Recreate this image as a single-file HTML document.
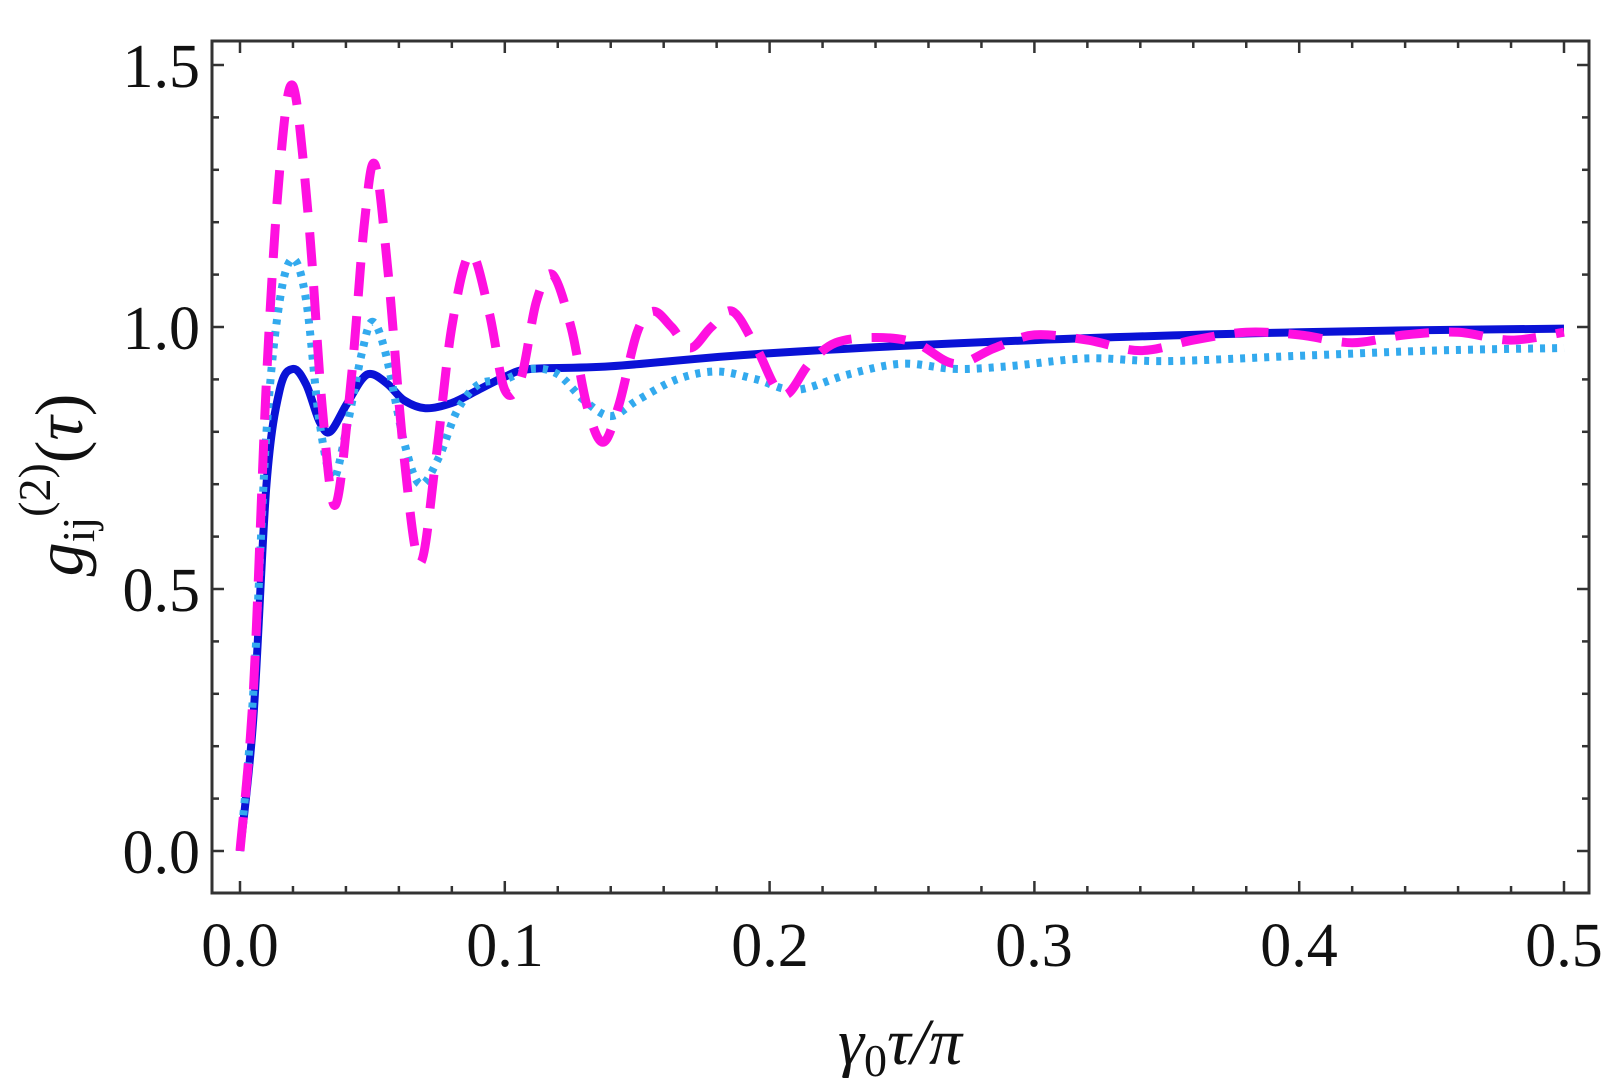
<!DOCTYPE html>
<html><head><meta charset="utf-8"><style>
html,body{margin:0;padding:0;background:#fff;}
svg{display:block;}
text{font-family:"Liberation Serif",serif;fill:#111;}
</style></head><body>
<svg id="s" width="1616" height="1090" viewBox="0 0 1616 1090" xmlns="http://www.w3.org/2000/svg">
<rect x="0" y="0" width="1616" height="1090" fill="#fff"/>
<g id="curves"></g>
<rect x="212" y="41" width="1377" height="852" fill="none" stroke="#333" stroke-width="3"/>
<g id="ticks" stroke="#333" stroke-width="2.5"></g>
<g font-size="62" text-anchor="end">
<text x="200" y="873">0.0</text>
<text x="200" y="611">0.5</text>
<text x="200" y="349">1.0</text>
<text x="200" y="87">1.5</text>
</g>
<g font-size="62" text-anchor="middle">
<text x="240" y="966">0.0</text>
<text x="505" y="966">0.1</text>
<text x="770" y="966">0.2</text>
<text x="1034" y="966">0.3</text>
<text x="1299" y="966">0.4</text>
<text x="1564" y="966">0.5</text>
</g>
<text x="900" y="1064" font-size="66" text-anchor="middle" font-style="italic">γ<tspan font-style="normal" font-size="46" dy="12">0</tspan><tspan dy="-12">τ/π</tspan></text>
<text transform="translate(82,485) rotate(-90)" font-size="68" text-anchor="middle" font-style="italic">g<tspan font-style="normal" font-size="46" dy="12">ij</tspan><tspan font-style="normal" font-size="46" dy="-44">(2)</tspan><tspan font-style="normal" dy="32">(</tspan>τ<tspan font-style="normal">)</tspan></text>
</svg>
<script>
var X=function(x){return 240+x*2648;},Y=function(y){return 851-y*524;};
function path(pts){
 var p=pts.map(function(a){return [X(a[0]),Y(a[1])];});
 var d="M"+p[0][0]+","+p[0][1];
 for(var i=0;i<p.length-1;i++){
  var p0=p[Math.max(i-1,0)],p1=p[i],p2=p[i+1],p3=p[Math.min(i+2,p.length-1)];
  var c1=[p1[0]+(p2[0]-p0[0])/6,p1[1]+(p2[1]-p0[1])/6];
  var c2=[p2[0]-(p3[0]-p1[0])/6,p2[1]-(p3[1]-p1[1])/6];
  d+=" C"+c1[0].toFixed(1)+","+c1[1].toFixed(1)+" "+c2[0].toFixed(1)+","+c2[1].toFixed(1)+" "+p2[0].toFixed(1)+","+p2[1].toFixed(1);
 }
 return d;
}
var blue=[[0,0],[0.005,0.25],[0.01,0.7],[0.015,0.88],[0.02,0.92],[0.025,0.89],[0.03,0.82],[0.034,0.80],[0.04,0.85],[0.046,0.90],[0.05,0.91],[0.056,0.89],[0.062,0.86],[0.07,0.845],[0.08,0.855],[0.09,0.88],[0.1,0.905],[0.11,0.92],[0.14,0.925],[0.2,0.95],[0.3,0.975],[0.4,0.99],[0.5,0.997]];
var mag=[[0,0],[0.005,0.3],[0.01,0.9],[0.015,1.3],[0.02,1.46],[0.026,1.2],[0.031,0.85],[0.036,0.66],[0.042,0.9],[0.047,1.2],[0.051,1.31],[0.056,1.1],[0.062,0.75],[0.068,0.55],[0.074,0.75],[0.08,1.0],[0.087,1.14],[0.094,1.03],[0.1,0.88],[0.106,0.9],[0.112,1.05],[0.118,1.10],[0.125,1.0],[0.131,0.85],[0.137,0.78],[0.143,0.85],[0.15,0.99],[0.156,1.03],[0.163,1.0],[0.17,0.96],[0.178,1.0],[0.186,1.03],[0.195,0.96],[0.205,0.87],[0.215,0.93],[0.225,0.97],[0.24,0.98],[0.255,0.97],[0.27,0.93],[0.285,0.96],[0.3,0.985],[0.32,0.975],[0.34,0.955],[0.36,0.975],[0.38,0.99],[0.4,0.985],[0.42,0.97],[0.44,0.985],[0.46,0.99],[0.48,0.975],[0.5,0.99]];
var cy=[[0,0],[0.005,0.3],[0.01,0.8],[0.015,1.05],[0.02,1.13],[0.025,1.05],[0.03,0.82],[0.035,0.71],[0.04,0.8],[0.046,0.95],[0.05,1.01],[0.055,0.95],[0.062,0.78],[0.068,0.70],[0.075,0.75],[0.082,0.84],[0.09,0.89],[0.1,0.90],[0.11,0.92],[0.12,0.91],[0.13,0.86],[0.14,0.83],[0.15,0.86],[0.165,0.90],[0.18,0.915],[0.195,0.90],[0.21,0.88],[0.23,0.91],[0.25,0.93],[0.27,0.92],[0.29,0.925],[0.32,0.94],[0.35,0.935],[0.4,0.945],[0.45,0.955],[0.5,0.96]];
var g=document.getElementById("curves");
g.innerHTML='<path d="'+path(blue)+'" fill="none" stroke="#0a12d6" stroke-width="8" stroke-linejoin="round"/>'+
'<path d="'+path(cy)+'" fill="none" stroke="#33aaee" stroke-width="8" stroke-dasharray="5 7"/>'+
'<path d="'+path(mag)+'" fill="none" stroke="#ff10e0" stroke-width="9" stroke-dasharray="34 20"/>';
var t="";
for(var i=0;i<=25;i++){var x=X(i*0.02),L=(i%5==0)?12:7;
 t+='<line x1="'+x+'" y1="893" x2="'+x+'" y2="'+(893-L)+'"/><line x1="'+x+'" y1="41" x2="'+x+'" y2="'+(41+L)+'"/>';}
for(var j=0;j<=16;j++){var y=Y(j*0.1);if(y<41)continue;var L=(j%5==0)?12:7;
 t+='<line x1="212" y1="'+y+'" x2="'+(212+L)+'" y2="'+y+'"/><line x1="1589" y1="'+y+'" x2="'+(1589-L)+'" y2="'+y+'"/>';}
document.getElementById("ticks").innerHTML=t;
</script>
</body></html>
